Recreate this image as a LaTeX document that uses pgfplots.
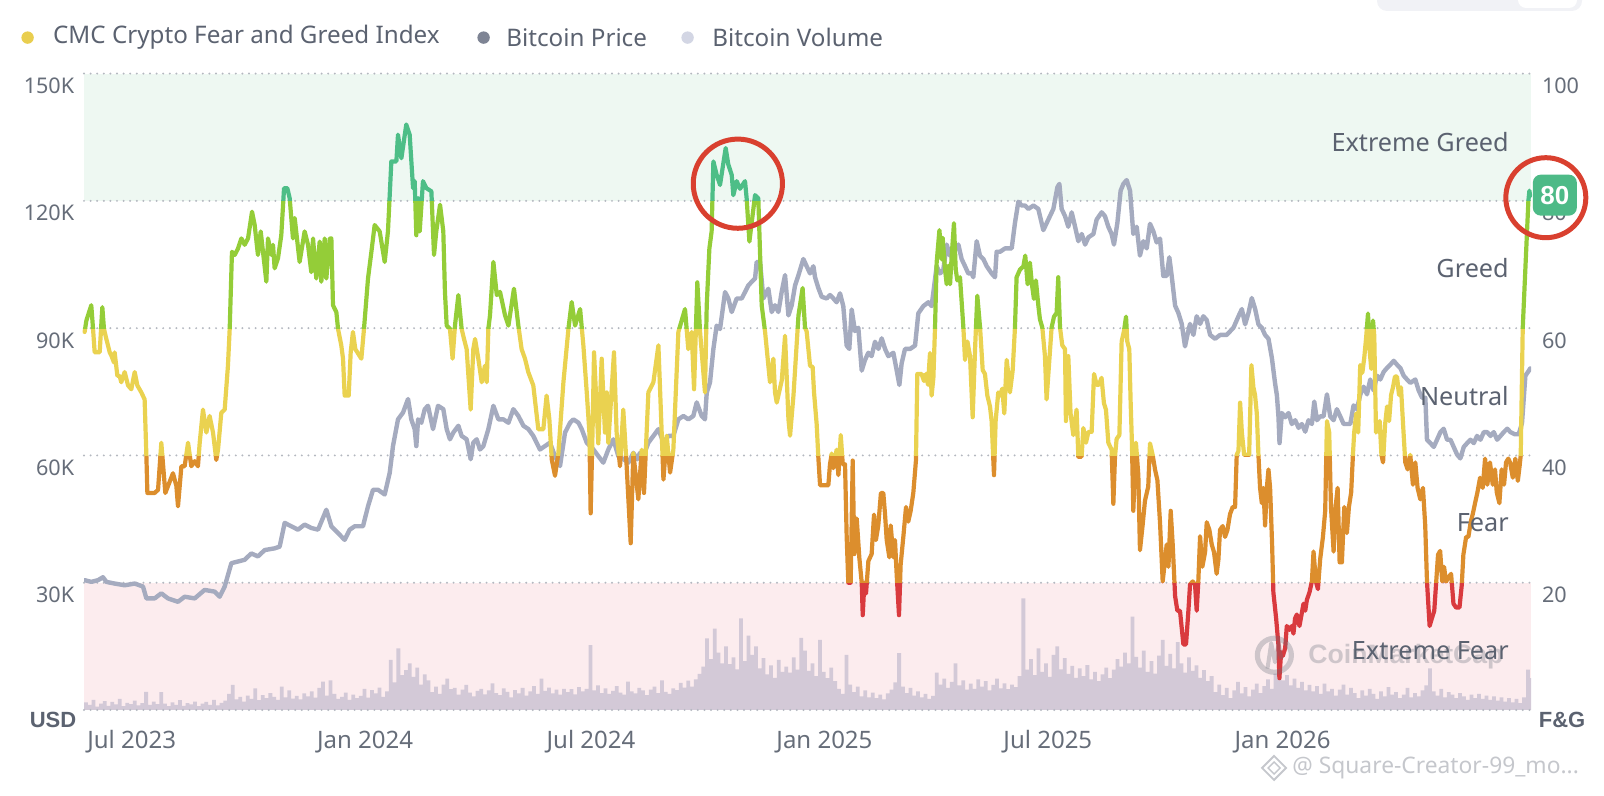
\documentclass[border=0pt]{standalone}
\usepackage{pgfplots}
\pgfplotsset{compat=1.18}
\usepackage{pgfplotstable}
\usepackage{fontspec}
\setmainfont{Noto Sans}
\newfontfamily\lbold{Liberation Sans}

\definecolor{egband}{HTML}{EEF8F2}
\definecolor{efband}{HTML}{FCECEE}
\definecolor{cEG}{HTML}{4DBE87}
\definecolor{cG}{HTML}{94CD38}
\definecolor{cN}{HTML}{EAD250}
\definecolor{cF}{HTML}{DC8E2D}
\definecolor{cEF}{HTML}{D93A3E}
\definecolor{cPrice}{HTML}{A5ABBF}
\definecolor{cVol}{HTML}{D3C9D7}
\definecolor{cGrid}{HTML}{B4B8C0}
\definecolor{cTick}{HTML}{666D79}
\definecolor{cText}{HTML}{5B6270}
\definecolor{cCircle}{HTML}{D9402F}
\definecolor{cBadge}{HTML}{4DBA87}
\definecolor{cLegY}{HTML}{E9CE4F}
\definecolor{cLegP}{HTML}{7E8494}
\definecolor{cLegV}{HTML}{D3D6E4}
\definecolor{cUI}{HTML}{F1F2F6}
\definecolor{cWM}{HTML}{C5C7CC}

% Fear & Greed index (x = day from left edge of chart)
\pgfplotstableread{
day fg
0.5 59.4
1.9 61.2
5.8 63.6
7.2 59.9
8.5 56.2
12.5 56.2
14.6 63.3
15.9 59.9
17.8 58.3
20.5 56.2
21.8 55.7
23.9 54.6
24.4 56.2
26.6 52.5
28.4 52.5
29.7 51.5
32.4 53.1
35.1 51.0
37.7 50.4
40.4 53.1
42.5 51.0
45.7 49.9
48.3 48.8
49.7 40.0
50.5 34.1
56.3 34.1
59.0 34.6
61.6 42.0
64.8 34.1
70.9 37.2
73.6 35.2
74.9 32.0
77.6 38.3
80.2 38.3
82.9 42.0
85.5 38.3
88.2 39.1
90.8 38.3
92.2 42.0
94.8 47.2
97.5 43.6
100.1 46.2
102.8 43.6
105.4 39.3
106.8 40.9
109.4 46.7
112.1 47.2
114.7 54.1
116.1 59.9
117.9 72.0
120.1 71.5
122.7 72.5
125.4 74.1
128.0 73.1
130.7 74.1
133.9 78.3
136.0 76.2
138.6 71.5
140.8 75.2
145.3 67.3
146.6 74.1
149.3 71.5
150.6 73.1
151.9 69.4
154.6 71.0
157.2 74.6
159.4 82.0
162.0 82.0
163.9 80.4
166.5 74.1
167.9 77.3
171.8 70.4
175.8 75.2
178.5 73.1
181.1 68.8
182.5 74.1
185.1 67.8
187.8 73.6
189.1 67.3
191.8 74.1
193.1 67.8
195.8 74.1
197.1 74.1
198.4 63.6
201.1 62.5
202.4 59.9
205.0 57.3
206.4 55.2
207.7 49.4
210.9 49.4
212.5 56.2
214.3 59.4
216.2 56.7
221.0 55.2
223.1 59.9
226.3 67.8
229.0 72.0
231.6 76.2
235.6 75.2
239.6 70.4
242.2 75.2
244.9 86.2
248.9 86.2
250.2 90.4
252.9 86.7
256.8 92.0
259.5 90.4
262.2 82.0
263.5 83.1
264.8 74.6
266.2 80.4
267.5 75.2
270.1 83.1
272.8 82.0
276.8 81.5
278.9 71.5
280.7 75.2
283.7 79.4
286.3 75.2
287.6 65.7
289.0 60.4
291.6 59.9
293.7 55.2
295.6 60.4
298.3 65.2
300.9 59.9
302.8 58.3
304.9 56.7
308.1 47.2
310.2 56.7
311.6 58.3
314.2 55.2
316.9 51.5
319.5 54.1
320.9 51.5
322.2 59.9
323.5 62.0
326.2 70.4
328.9 65.2
331.5 65.7
335.5 62.0
338.2 60.4
342.6 66.2
346.1 60.4
348.7 56.7
351.4 55.2
354.0 53.1
358.0 51.0
362.0 44.1
366.0 44.1
368.6 49.4
370.8 45.7
372.7 39.4
375.3 36.8
378.0 40.4
382.0 51.5
386.0 59.9
388.6 64.1
391.3 60.4
395.3 63.0
397.9 57.3
400.6 49.9
402.7 43.6
403.7 30.9
405.3 44.6
406.4 56.2
409.8 41.9
412.5 55.2
415.1 43.6
416.5 49.9
417.8 42.0
422.3 56.2
424.4 43.6
427.1 38.3
429.7 47.2
432.4 38.3
435.6 26.2
437.7 40.4
441.7 33.1
444.4 40.9
446.2 34.1
449.7 49.9
453.7 51.5
457.7 57.3
460.3 43.6
461.7 36.2
464.3 43.1
467.0 37.3
469.6 40.9
473.6 59.4
478.9 63.0
481.5 56.7
484.2 59.4
486.1 50.4
488.7 67.2
490.9 59.4
494.8 49.9
496.2 63.6
498.3 72.5
500.1 75.2
501.5 86.2
504.1 84.1
506.8 82.5
509.5 86.0
511.3 88.3
513.4 85.7
516.1 84.1
517.4 80.9
520.1 83.1
522.7 81.9
526.7 83.1
528.0 80.4
530.2 73.6
534.7 80.9
537.3 80.4
540.0 63.6
542.7 59.4
546.6 51.5
549.3 55.2
550.6 49.9
552.0 48.3
556.0 51.8
558.6 58.8
561.3 45.7
562.6 43.1
565.3 49.4
569.3 62.0
572.6 66.3
574.5 60.1
575.8 59.5
578.5 54.1
580.6 53.9
581.7 49.9
583.8 44.9
585.1 39.8
586.5 35.3
590.4 35.3
593.1 35.3
594.4 38.6
595.8 40.3
597.1 38.0
599.7 40.9
601.1 36.9
603.0 43.2
604.6 38.6
606.4 38.6
607.7 27.3
609.0 20.0
610.9 20.0
612.5 39.2
613.8 24.5
615.7 30.1
617.8 23.9
619.7 20.0
620.5 14.9
621.8 20.0
623.1 18.3
625.0 23.4
627.6 24.5
629.5 30.7
631.0 26.7
632.9 29.0
635.0 34.1
636.9 34.1
638.3 30.7
639.6 26.7
641.7 24.0
642.8 29.0
644.9 24.0
646.2 26.7
647.6 21.1
649.4 14.9
650.7 22.8
652.9 27.3
655.0 31.9
656.8 29.6
658.7 31.3
660.8 34.1
662.9 39.2
664.0 52.8
667.4 52.8
669.3 51.7
670.9 52.8
672.5 51.1
674.1 56.1
675.4 49.4
676.8 52.2
678.1 60.1
679.4 70.3
681.6 75.4
683.4 70.8
684.2 74.2
686.1 69.2
687.4 66.9
688.7 69.8
690.1 66.9
691.4 71.4
693.2 76.5
694.6 69.2
695.9 67.5
698.0 68.0
700.7 60.1
702.0 55.0
703.9 57.9
706.0 55.6
708.1 46.0
710.0 56.7
711.8 65.1
714.0 60.1
716.1 53.4
717.9 52.8
719.8 49.4
721.9 47.7
723.2 45.4
725.1 36.9
726.4 45.4
728.5 49.9
729.9 49.4
731.7 50.5
733.3 46.6
735.2 55.0
736.5 52.8
737.8 49.9
740.0 53.4
741.8 60.1
743.1 68.0
745.8 69.2
748.5 69.7
750.0 71.4
751.9 66.9
753.7 70.3
755.3 66.9
756.9 64.6
758.5 67.5
760.4 63.6
761.7 61.4
763.6 60.1
765.7 55.6
767.0 48.8
769.2 55.0
771.0 60.1
772.9 61.8
775.0 62.4
776.3 68.0
777.7 60.1
779.5 57.3
781.7 56.7
782.4 45.4
784.3 55.6
786.1 46.6
788.3 43.2
790.9 47.2
792.3 39.8
794.9 39.8
796.3 44.3
798.4 42.0
800.3 43.7
802.9 43.7
804.8 52.8
806.9 51.1
808.7 51.1
810.8 52.2
812.7 48.2
814.3 47.2
816.2 42.0
818.8 40.9
820.2 32.4
821.5 39.8
822.8 42.6
825.0 43.2
826.8 57.9
828.7 59.6
830.3 61.8
831.3 57.9
832.9 56.7
834.0 48.2
835.0 42.0
836.1 31.3
838.2 42.0
840.1 36.9
841.4 25.1
843.5 29.0
845.4 32.9
848.0 35.1
849.4 41.9
851.5 40.1
853.4 37.8
855.3 36.1
857.4 29.4
859.5 20.2
861.4 23.6
862.7 26.0
864.1 22.5
865.9 31.3
867.5 26.0
869.4 17.9
871.2 15.6
873.3 15.6
876.0 10.3
878.1 10.3
880.0 15.6
881.3 19.7
883.4 20.2
885.3 19.7
886.6 15.6
887.9 20.2
889.3 27.3
891.1 22.5
893.3 24.8
894.6 29.5
896.7 28.3
898.6 26.0
900.4 24.8
902.5 21.4
903.9 23.6
905.2 28.3
907.3 28.9
909.2 27.2
911.1 28.3
913.2 30.8
915.3 31.9
917.2 31.9
918.5 40.1
919.9 40.7
921.2 48.3
922.6 43.6
924.4 40.1
926.5 40.1
928.4 40.1
930.2 54.2
931.8 50.7
933.1 49.5
934.5 46.6
935.8 40.1
937.1 34.9
938.5 32.5
939.8 34.9
941.1 29.0
942.5 34.9
943.8 37.8
945.1 34.9
946.7 26.0
947.7 18.5
949.9 14.4
951.7 10.3
952.5 5.0
953.9 9.1
955.2 8.5
957.1 9.7
958.4 13.2
960.5 12.6
962.4 13.2
963.7 12.0
965.0 14.4
966.4 15.0
968.5 13.2
969.6 14.4
971.7 16.7
973.1 15.6
974.4 17.3
976.5 18.5
978.4 20.2
979.7 24.9
981.6 20.2
983.2 19.0
985.0 23.7
987.2 27.2
989.0 31.3
990.4 45.4
992.2 43.6
993.6 31.9
995.7 24.9
997.3 31.9
998.9 34.9
1000.5 23.2
1002.3 23.2
1004.2 31.9
1006.3 27.8
1007.9 31.9
1009.7 34.2
1011.1 40.1
1012.1 43.6
1013.7 46.6
1015.3 43.6
1016.9 54.2
1018.6 53.0
1020.1 55.3
1021.7 58.7
1023.1 62.3
1024.4 56.5
1025.7 53.6
1027.1 61.2
1028.1 58.8
1029.5 43.6
1031.1 44.8
1032.4 45.4
1033.8 40.1
1035.1 38.9
1036.7 44.8
1038.3 47.7
1039.9 45.4
1041.5 49.5
1043.0 50.7
1044.6 52.4
1046.2 52.4
1047.8 49.5
1049.4 50.7
1050.9 45.4
1052.8 38.9
1054.7 37.8
1056.8 40.1
1058.9 35.4
1060.8 38.9
1062.6 34.9
1064.8 33.1
1066.9 34.9
1068.7 29.0
1070.1 20.2
1072.2 13.2
1074.0 14.4
1075.9 15.6
1077.3 19.7
1078.9 24.4
1080.6 25.0
1082.2 20.2
1083.7 22.5
1085.3 20.2
1087.2 20.8
1089.3 21.4
1091.2 16.7
1093.3 16.1
1096.0 16.1
1097.8 19.6
1099.1 24.4
1101.3 27.2
1103.1 27.2
1105.0 29.6
1106.6 30.8
1108.4 32.5
1110.3 34.2
1112.4 36.5
1114.5 34.9
1116.4 39.5
1118.2 35.4
1120.3 38.9
1122.5 35.4
1124.3 37.8
1125.7 34.2
1127.8 32.5
1129.6 37.8
1131.5 35.4
1133.1 38.9
1134.9 39.5
1136.3 38.9
1138.5 36.5
1140.5 39.5
1142.5 36.0
1144.0 38.5
1144.8 40.0
1146.4 60.0
1150.9 80.0
1151.7 81.6
1152.3 80.8
}\fgdata

% Bitcoin price, thousand USD
\pgfplotstableread{
day price
0.5 30.6
5.8 30.2
11.2 30.6
15.1 31.3
17.8 30.2
24.4 29.8
32.4 29.4
40.4 29.8
47.0 29.1
49.7 26.3
56.3 26.3
61.6 27.5
66.9 26.3
74.9 25.5
80.2 26.7
88.2 26.3
96.1 28.3
104.1 27.9
108.1 26.7
112.1 29.1
117.4 34.6
122.7 35.0
128.0 35.4
133.3 36.9
138.6 36.2
144.0 37.7
151.9 38.1
155.9 38.5
159.9 44.1
165.2 43.3
170.5 42.5
175.8 43.7
181.1 42.9
186.5 42.5
193.1 47.2
197.1 43.3
202.4 41.7
207.7 40.1
211.7 42.5
215.7 43.3
222.3 43.3
226.3 48.0
230.3 51.9
234.3 51.9
239.6 50.8
243.6 55.9
246.2 62.2
250.2 68.5
254.2 70.1
258.2 73.3
260.8 68.5
263.5 66.2
264.8 62.2
266.2 68.5
268.8 67.7
271.5 70.9
274.1 71.7
278.1 66.2
282.1 71.7
286.3 70.9
289.0 66.2
291.6 63.8
294.3 65.4
298.3 67.0
300.9 64.6
304.9 63.8
308.1 59.1
310.2 63.0
312.9 63.8
315.5 61.4
318.2 62.2
322.2 66.2
326.2 71.7
330.2 68.5
334.2 68.5
338.2 67.7
342.1 70.9
346.1 69.3
350.1 67.0
354.1 66.2
358.0 64.6
363.3 61.4
367.3 62.2
371.3 63.0
375.3 59.8
379.3 57.5
383.3 65.4
387.3 67.7
390.0 68.5
394.0 67.7
396.6 66.2
400.6 63.0
405.9 61.4
409.9 59.8
413.8 58.3
417.8 61.4
421.8 63.8
425.8 59.8
429.8 59.1
433.8 58.3
437.7 60.6
440.9 59.1
443.0 60.6
445.7 59.8
449.7 63.0
453.7 64.6
457.7 66.2
461.7 63.0
465.6 64.6
469.6 64.6
473.6 68.5
477.6 69.3
481.5 68.5
485.5 69.3
488.2 72.5
492.2 69.3
494.8 68.5
496.2 74.8
498.8 77.2
501.5 85.1
504.1 90.6
506.8 89.8
510.8 98.5
513.4 97.0
516.1 93.8
520.1 97.0
524.1 97.0
526.7 98.5
529.4 100.1
532.0 100.9
534.7 101.7
536.0 105.6
538.7 105.6
541.3 97.0
545.3 99.3
548.0 93.8
550.6 95.4
553.3 93.8
555.9 98.5
558.6 102.5
561.3 93.0
563.9 95.4
566.6 100.1
569.3 102.5
573.2 106.3
575.8 104.6
578.5 102.9
581.2 104.6
582.5 102.0
585.1 99.5
587.8 97.4
591.8 97.0
594.4 97.8
597.1 97.0
599.7 96.1
602.4 98.2
605.0 95.2
607.7 85.9
609.8 85.1
611.7 94.4
614.3 89.3
617.0 90.1
619.7 80.0
622.3 82.5
625.0 84.2
627.6 83.4
630.3 86.8
633.0 85.1
635.6 87.6
638.3 85.1
640.9 83.4
644.9 84.2
647.6 80.0
649.7 76.6
651.5 81.7
654.2 85.1
658.2 85.1
662.2 85.9
664.8 93.5
668.8 95.2
672.8 96.1
675.4 95.2
679.4 104.6
682.1 102.9
684.7 103.7
687.4 109.7
690.0 107.1
693.2 108.0
696.7 109.7
699.3 106.3
702.0 104.6
704.6 102.9
707.3 102.9
708.6 102.0
711.3 110.5
713.9 107.1
716.6 106.3
719.3 104.6
723.2 102.9
725.9 102.0
727.2 108.0
729.9 108.0
733.9 108.8
736.5 108.8
739.2 108.8
741.8 114.8
744.5 119.8
747.2 118.9
749.8 118.9
752.5 118.1
756.5 118.9
760.4 118.1
764.4 113.1
768.4 115.6
772.4 118.1
775.6 123.2
777.2 124.0
779.0 118.1
781.7 116.4
784.3 113.9
787.0 117.3
789.7 113.9
792.3 110.5
795.0 112.2
797.7 109.7
800.3 111.4
804.3 112.2
806.9 115.6
810.9 117.3
813.5 116.4
816.2 113.9
818.8 112.2
820.7 109.7
823.4 114.8
826.0 122.4
828.2 124.0
830.8 124.9
833.5 122.4
836.1 112.2
838.8 113.9
841.4 107.1
844.1 110.5
846.8 108.8
849.4 114.6
852.1 112.8
854.7 110.2
857.4 111.1
860.0 102.3
862.7 102.3
864.8 106.7
866.7 102.3
869.4 95.3
872.0 93.6
874.7 91.0
877.3 85.7
879.2 88.4
881.3 91.0
884.0 88.4
886.6 92.8
889.3 91.0
891.9 92.8
894.6 91.9
897.3 88.4
901.3 87.5
905.2 88.4
910.5 88.4
915.9 90.1
919.9 92.8
922.6 94.5
925.2 90.9
927.9 93.6
930.5 97.1
933.2 94.5
935.8 90.9
938.5 90.1
941.1 88.4
943.8 87.5
946.5 83.0
949.1 76.9
950.5 74.2
951.8 69.0
952.6 62.9
954.5 70.0
957.1 69.0
959.8 70.0
962.4 67.4
965.1 68.3
967.8 66.5
970.4 67.4
973.1 65.6
975.7 68.3
978.4 67.4
980.3 72.7
982.4 68.3
985.0 69.2
987.7 69.2
990.4 74.4
993.0 69.2
995.7 68.3
998.3 70.9
1001.0 69.2
1003.7 67.4
1006.3 67.4
1009.0 67.4
1011.6 71.8
1014.3 70.9
1017.0 74.4
1019.6 76.2
1022.3 74.4
1024.9 77.9
1027.6 75.3
1030.3 78.8
1032.9 77.9
1035.6 79.7
1038.2 80.6
1040.9 81.4
1043.6 82.3
1046.2 81.4
1048.9 80.6
1051.5 78.8
1054.2 77.9
1056.9 77.1
1060.8 77.9
1063.5 75.3
1066.2 73.6
1068.8 73.6
1070.1 63.7
1072.8 62.9
1075.5 62.0
1078.1 63.7
1080.8 65.5
1083.4 66.3
1086.1 63.7
1088.8 63.7
1091.4 62.0
1094.1 60.2
1096.7 59.3
1099.4 62.0
1102.1 62.9
1104.7 63.7
1107.4 62.9
1110.0 64.6
1112.7 63.7
1115.4 65.5
1118.0 65.5
1120.7 64.6
1123.3 65.5
1126.0 63.7
1128.7 64.6
1131.3 65.5
1134.0 66.3
1136.6 65.5
1140.0 65.0
1143.2 65.0
1145.8 67.6
1148.5 78.8
1151.1 79.9
1152.3 80.5
}\pricedata

% Bitcoin volume, one value every 3 days (same scale as the price axis)
\pgfplotstableread[row sep=\\]{
v\\
1.8\\1.2\\2.4\\0.8\\1.5\\2.1\\1.0\\1.9\\1.3\\2.6\\0.9\\1.7\\1.4\\2.2\\1.1\\1.6\\4.3\\1.2\\2.0\\1.4\\4.2\\1.5\\0.9\\1.8\\1.2\\2.3\\1.0\\1.6\\1.3\\2.0\\0.9\\1.5\\1.9\\1.2\\2.4\\1.1\\1.7\\
2.2\\3.8\\5.9\\2.5\\3.1\\2.0\\3.4\\2.6\\5.1\\2.3\\3.5\\2.8\\4.0\\3.1\\2.4\\5.5\\3.0\\4.6\\2.7\\3.3\\2.5\\3.9\\3.2\\4.4\\2.9\\5.2\\6.7\\3.4\\7.0\\3.8\\2.6\\3.1\\4.1\\2.4\\3.6\\2.8\\3.3\\5.0\\2.9\\4.7\\3.9\\5.3\\3.1\\4.4\\
11.8\\6.5\\14.5\\8.2\\9.4\\11.0\\7.8\\10.0\\6.0\\8.4\\
7.0\\4.2\\5.5\\3.8\\6.0\\7.4\\4.9\\5.2\\3.6\\4.8\\5.9\\4.1\\3.2\\4.5\\5.0\\3.7\\4.6\\6.3\\4.0\\3.5\\5.1\\4.3\\3.0\\4.7\\3.9\\5.2\\3.4\\4.4\\5.6\\3.8\\7.4\\4.5\\5.3\\3.9\\4.8\\3.6\\5.0\\4.2\\4.9\\3.7\\5.4\\4.4\\5.0\\15.3\\4.6\\5.8\\4.0\\5.1\\3.8\\4.5\\5.6\\4.1\\3.6\\6.7\\4.4\\3.9\\5.2\\4.6\\3.5\\4.8\\5.5\\4.0\\7.0\\4.3\\3.8\\5.1\\4.7\\6.4\\5.3\\6.9\\5.5\\7.2\\
8.5\\10.2\\16.9\\12.0\\19.2\\13.5\\11.0\\15.0\\10.8\\12.4\\9.6\\21.6\\11.5\\17.5\\13.0\\15.0\\9.8\\12.2\\8.4\\10.5\\7.6\\11.8\\9.0\\10.2\\8.8\\12.4\\9.5\\17.0\\
14.0\\9.2\\11.0\\8.0\\16.5\\9.0\\7.5\\10.0\\6.8\\
5.0\\3.8\\13.0\\6.0\\4.2\\5.5\\3.2\\4.6\\3.0\\4.1\\2.8\\3.6\\2.5\\3.9\\4.8\\6.5\\13.4\\5.5\\4.0\\5.2\\3.4\\4.4\\3.0\\3.8\\2.6\\3.3\\
8.8\\6.0\\7.4\\5.2\\6.6\\11.0\\5.8\\7.0\\4.8\\6.2\\5.0\\7.2\\5.5\\6.8\\4.6\\5.9\\7.4\\5.1\\6.3\\4.9\\6.0\\5.4\\
8.0\\26.3\\9.5\\12.0\\8.2\\14.5\\9.0\\11.0\\7.8\\13.0\\15.0\\9.6\\12.2\\8.5\\10.4\\7.6\\9.8\\8.0\\10.6\\7.2\\9.0\\6.8\\8.4\\10.0\\7.5\\
9.5\\12.0\\10.2\\13.5\\11.0\\22.0\\12.5\\10.0\\14.0\\9.0\\11.5\\8.6\\12.8\\16.5\\10.4\\13.2\\9.8\\16.0\\11.0\\8.8\\12.4\\9.2\\10.5\\7.6\\9.4\\6.8\\8.0\\
4.2\\6.0\\3.5\\5.2\\2.8\\4.6\\6.6\\3.9\\5.4\\3.2\\4.8\\6.2\\4.0\\5.6\\7.2\\5.0\\8.6\\11.8\\7.0\\8.2\\5.8\\7.4\\5.2\\6.6\\4.6\\5.9\\4.4\\
5.6\\3.8\\6.2\\4.4\\5.0\\3.4\\4.8\\6.0\\3.6\\5.2\\4.0\\2.8\\4.6\\3.4\\5.0\\3.8\\2.6\\4.4\\3.2\\5.4\\3.6\\4.2\\2.8\\3.6\\5.2\\3.0\\4.0\\3.2\\4.6\\5.8\\9.8\\4.4\\3.4\\5.0\\3.0\\4.2\\3.6\\2.8\\4.0\\3.2\\2.4\\3.6\\2.8\\3.8\\2.6\\3.4\\2.4\\3.2\\2.2\\3.0\\2.0\\2.8\\1.8\\2.6\\1.6\\3.0\\9.5\\7.5\\
}\voldata

\tikzset{
  gridl/.style={cGrid, line width=1.1pt, line cap=round, dash pattern=on 0pt off 3.3pt},
  fgl/.style={line width=2.1pt, line join=round, line cap=round},
}
\pgfplotsset{
  base/.style={
    at={(42pt,43pt)}, anchor=south west, scale only axis,
    width=723.5pt, height=318.2pt, xmin=0, xmax=1153,
    axis line style={draw=none}, major tick length=0pt,
    tick style={draw=none},
    tick label style={text=cTick, font=\fontsize{10.8}{12}\selectfont},
  },
}

\begin{document}
\begin{tikzpicture}
\path[use as bounding box] (0,0) rectangle (802pt,398pt);

% top-right UI remnant
\fill[cUI, rounded corners=5pt] (688.5pt,392.5pt) rectangle (791pt,412pt);
\fill[white, rounded corners=4pt] (759pt,394pt) rectangle (788.5pt,412pt);

% legend
\fill[cLegY] (13.8pt,379.2pt) circle[radius=3.1pt];
\node[anchor=west, inner sep=0pt, text=cText, font=\fontsize{12.1}{14}\selectfont] at (26.4pt,379.2pt) {CMC Crypto Fear and Greed Index};
\fill[cLegP] (241.8pt,379.2pt) circle[radius=3.1pt];
\node[anchor=west, inner sep=0pt, text=cText, font=\fontsize{12.1}{14}\selectfont] at (253pt,379.2pt) {Bitcoin Price};
\fill[cLegV] (343.8pt,379.2pt) circle[radius=3.1pt];
\node[anchor=west, inner sep=0pt, text=cText, font=\fontsize{12.1}{14}\selectfont] at (356pt,379.2pt) {Bitcoin Volume};

% ---------- price / volume axis (left) ----------
\begin{axis}[base, ymin=0, ymax=150, clip mode=individual,
  xtick=\empty,
  ytick={30,60,90,120,150}, yticklabels={30K,60K,90K,120K,150K},
  yticklabel style={anchor=east, inner sep=0pt, xshift=-4.7pt, yshift=-6.2pt},
]
\fill[efband] (axis cs:0,0) rectangle (axis cs:1153,30);
\fill[egband] (axis cs:0,120) rectangle (axis cs:1153,150);
\draw[gridl] (axis cs:0,30) -- (axis cs:1153,30);
\draw[gridl] (axis cs:0,60) -- (axis cs:1153,60);
\draw[gridl] (axis cs:0,90) -- (axis cs:1153,90);
\draw[gridl] (axis cs:0,120) -- (axis cs:1153,120);
\draw[gridl] (axis cs:0,150) -- (axis cs:1153,150);
\addplot[ybar, bar width=3, fill=cVol, draw=none] table[x expr=\coordindex*3+1.5, y=v] {\voldata};
\draw[gridl] (axis cs:0,0) -- (axis cs:1153,0);
\addplot[cPrice, line width=2.2pt, line join=round, line cap=round] table[x=day, y=price] {\pricedata};
\end{axis}

% ---------- Fear & Greed axis (right) ----------
\begin{axis}[base, ymin=0, ymax=100, clip=false,
  xtick={38,224,404,590,768,955},
  xticklabels={Jul 2023,Jan 2024,Jul 2024,Jan 2025,Jul 2025,Jan 2026},
  xticklabel style={anchor=center, yshift=-16pt, font=\fontsize{12}{14}\selectfont},
  ytick={20,40,60,80,100}, yticklabels={20,40,60,80,100},
  yticklabel pos=right,
  yticklabel style={anchor=west, inner sep=0pt, xshift=5.3pt, yshift=-6.2pt},
]
\begin{scope}
\clip (axis cs:-10,-10) rectangle (axis cs:1165,20);
\addplot[fgl, cEF] table[x=day, y=fg] {\fgdata};
\end{scope}
\begin{scope}
\clip (axis cs:-10,20) rectangle (axis cs:1165,40);
\addplot[fgl, cF] table[x=day, y=fg] {\fgdata};
\end{scope}
\begin{scope}
\clip (axis cs:-10,40) rectangle (axis cs:1165,60);
\addplot[fgl, cN] table[x=day, y=fg] {\fgdata};
\end{scope}
\begin{scope}
\clip (axis cs:-10,60) rectangle (axis cs:1165,80);
\addplot[fgl, cG] table[x=day, y=fg] {\fgdata};
\end{scope}
\begin{scope}
\clip (axis cs:-10,80) rectangle (axis cs:1165,110);
\addplot[fgl, cEG] table[x=day, y=fg] {\fgdata};
\end{scope}

% watermark
\draw[cTick, opacity=0.3, line width=2.6pt] (axis cs:948.5,8.6) circle[radius=8.5pt];
\draw[cTick, opacity=0.3, line width=2pt, line join=round] (axis cs:943,6.5) -- (axis cs:946,10.5) -- (axis cs:949,7.5) -- (axis cs:952,10.5) -- (axis cs:954,8);
\node[anchor=west, inner sep=0pt, text=cTick, opacity=0.3, font=\lbold\bfseries\fontsize{13.3}{15}\selectfont] at (axis cs:975.3,8.4) {CoinMarketCap};

% zone labels
\node[anchor=east, inner sep=0pt, text=cText, font=\fontsize{12.6}{14}\selectfont] at (axis cs:1135.5,89.3) {Extreme Greed};
\node[anchor=east, inner sep=0pt, text=cText, font=\fontsize{12.6}{14}\selectfont] at (axis cs:1135.5,69.4) {Greed};
\node[anchor=east, inner sep=0pt, text=cText, font=\fontsize{12.6}{14}\selectfont] at (axis cs:1135.5,49.4) {Neutral};
\node[anchor=east, inner sep=0pt, text=cText, font=\fontsize{12.6}{14}\selectfont] at (axis cs:1135.5,29.4) {Fear};
\node[anchor=east, inner sep=0pt, text=cText, font=\fontsize{12.6}{14}\selectfont] at (axis cs:1135.5,9.4) {Extreme Fear};

% latest value badge and highlight circles
\node[fill=cBadge, text=white, rounded corners=4pt, minimum width=22pt, minimum height=20.5pt, inner sep=0pt, font=\lbold\bfseries\fontsize{13}{15}\selectfont] at (axis cs:1172,80.9) {80};
\draw[cCircle, line width=2.5pt] (axis cs:521,82.7) circle[radius=22.3pt];
\draw[cCircle, line width=2.5pt] (axis cs:1164.8,80.5) circle[radius=20pt];
\end{axis}

% axis unit labels
\node[inner sep=0pt, text=cText, font=\lbold\bfseries\fontsize{11}{13}\selectfont] at (26.5pt,38pt) {USD};
\node[inner sep=0pt, text=cText, font=\lbold\bfseries\fontsize{11}{13}\selectfont] at (781pt,38pt) {F\&G};

% bottom-right watermark
\draw[cWM, line width=0.9pt] (637pt,20pt) -- (643pt,14pt) -- (637pt,8pt) -- (631pt,14pt) -- cycle;
\draw[cWM, line width=0.7pt] (637pt,17pt) -- (640pt,14pt) -- (637pt,11pt) -- (634pt,14pt) -- cycle;
\node[anchor=west, inner sep=0pt, text=cWM, font=\fontsize{11.4}{13}\selectfont] at (646pt,14pt) {@ Square-Creator-99\_mo...};
\end{tikzpicture}
\end{document}
